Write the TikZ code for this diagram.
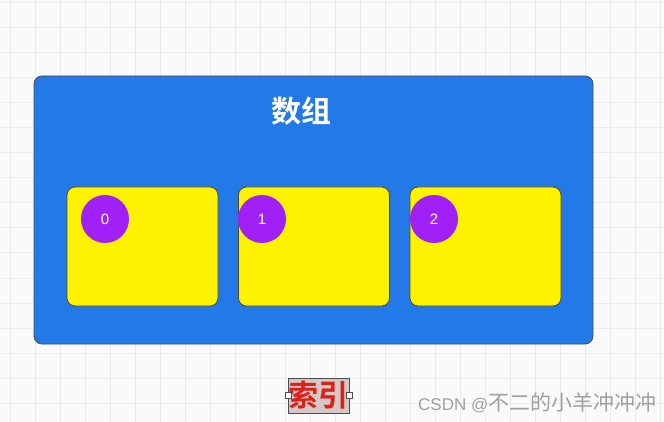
\documentclass[tikz,border=0pt]{standalone}
\usepackage{fontspec}
\usepackage{xcolor}
\usepackage{tikz}
\setmainfont{Liberation Sans}
\newfontfamily\cjk{Noto Sans CJK SC}
\newfontfamily\cjkbold{Noto Sans CJK SC Bold}
\definecolor{paper}{RGB}{250, 250, 250}
\definecolor{gridgray}{RGB}{234, 234, 234}
\definecolor{arrayblue}{RGB}{36, 121, 232}
\definecolor{cellyellow}{RGB}{255, 242, 0}
\definecolor{indexpurple}{RGB}{160, 32, 245}
\definecolor{labelred}{RGB}{222, 32, 22}
\definecolor{labelfill}{RGB}{214, 200, 200}
\definecolor{marksgray}{RGB}{160, 160, 160}

\begin{document}
\begin{tikzpicture}[x=1pt, y=-1pt,
           frame/.style = {draw=black!70, fill=arrayblue, rounded corners=8pt, line width=0.8pt, minimum width=559pt, minimum height=268pt},
            cell/.style = {draw=black!60!olive, fill=cellyellow, rounded corners=8pt, line width=0.8pt, minimum width=151pt, minimum height=119pt},
             idx/.style = {circle, fill=indexpurple, text=white, minimum size=48pt, inner sep=0pt, font=\fontsize{15}{15}\selectfont},
           title/.style = {text=white, font=\cjkbold\fontsize{30}{32}\selectfont},
          tagbox/.style = {draw=black!70, fill=labelfill, text=labelred, minimum width=61pt, minimum height=35pt, inner sep=0pt, font=\cjkbold\fontsize{30}{30}\selectfont},
          handle/.style = {draw=black!70, fill=white, minimum size=6pt, inner sep=0pt, line width=0.6pt}]
    % background
    \fill[paper] (0,0) rectangle (664,422);
    \useasboundingbox (0,0) rectangle (664,422);
    \foreach \gx in {10,35,...,660} \draw[gridgray, line width=1pt] (\gx,0) -- (\gx,422);
    \foreach \gy in {3,28,...,420} \draw[gridgray, line width=1pt] (0,\gy) -- (664,\gy);

    % array
    \node[frame] (array) at (313.5,210) {};
    \node[title] (arraytitle) at (301,111) {数组};
    \node[cell] (cell0) at (142.5,246.5) {};
    \node[cell] (cell1) at (314,246.5) {};
    \node[cell] (cell2) at (485.5,246.5) {};
    \node[idx] (idx0) at (105,219) {0};
    \node[idx] (idx1) at (262,219) {1};
    \node[idx] (idx2) at (434,219) {2};

    % label below
    \node[tagbox] (tag) at (318.5,395.5) {索引};
    \node[handle] (tagleft) at (tag.west) {};
    \node[handle] (tagright) at (tag.east) {};

    \node[anchor=west, text=marksgray, font=\fontsize{17}{17}\selectfont, inner sep=0pt] (watermark) at (418,403) {CSDN @{\cjk\fontsize{21}{21}\selectfont 不二的小羊冲冲冲}};
\end{tikzpicture}
\end{document}
